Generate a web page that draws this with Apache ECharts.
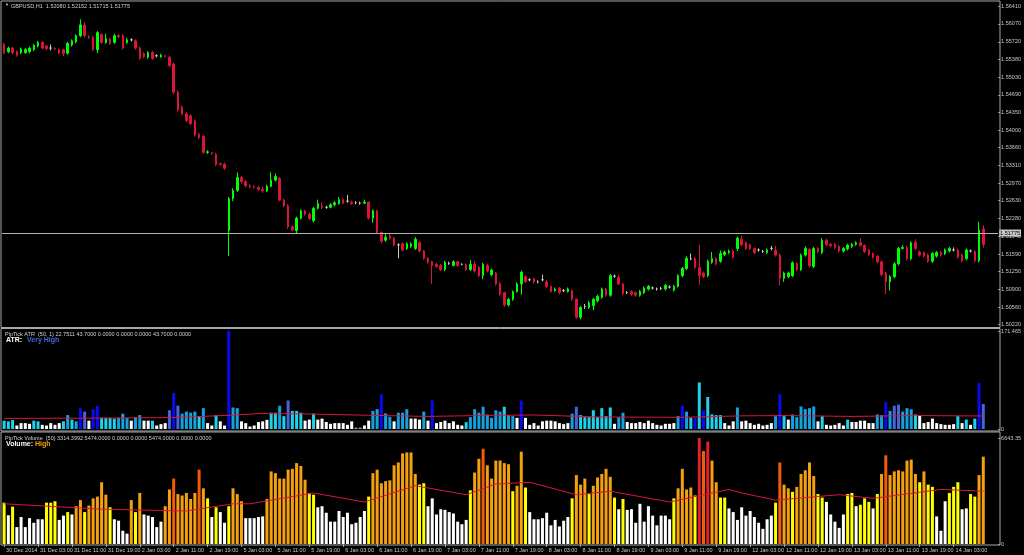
<!DOCTYPE html>
<html><head><meta charset="utf-8">
<script src="https://cdn.jsdelivr.net/npm/echarts@6/dist/echarts.min.js"></script>
<style>html,body{margin:0;padding:0;background:#000;}#c{width:1024px;height:555px;}</style>
</head><body><div id="c"></div><script>
// ---- categories (hourly bars, one session per trading day) ----
const sessions = [['30 Dec',19,23],['31 Dec',0,23],['2 Jan',0,23],['5 Jan',0,23],['6 Jan',0,23],['7 Jan',0,23],['8 Jan',0,23],['9 Jan',0,23],['12 Jan',0,23],['13 Jan',0,23],['14 Jan',0,10]];
const firstLabel = '30 Dec 2014';
const emptySlots = 3;
const symbolName = 'GBPUSD,H1';

// ---- price data ----
const openP = [
1.5567,1.5553,1.5560,1.5553,1.5551,1.5551,1.5553,1.5557,1.5564,1.5571,
1.5564,1.5560,1.5559,1.5557,1.5557,1.5550,1.5566,1.5572,1.5584,1.5605,
1.5582,1.5581,1.5557,1.5586,1.5571,1.5577,1.5571,1.5584,1.5584,1.5571,
1.5576,1.5574,1.5560,1.5549,1.5542,1.5551,1.5545,1.5543,1.5545,1.5542,
1.5529,1.5474,1.5445,1.5432,1.5428,1.5418,1.5392,1.5388,1.5357,1.5356,
1.5353,1.5335,1.5334,1.5205,1.5267,1.5283,1.5308,1.5300,1.5292,1.5290,
1.5289,1.5285,1.5282,1.5291,1.5303,1.5306,1.5264,1.5253,1.5212,1.5205,
1.5229,1.5243,1.5237,1.5224,1.5248,1.5253,1.5250,1.5250,1.5255,1.5257,
1.5265,1.5262,1.5260,1.5259,1.5258,1.5258,1.5260,1.5229,1.5243,1.5201,
1.5186,1.5195,1.5190,1.5177,1.5179,1.5170,1.5174,1.5170,1.5181,1.5165,
1.5151,1.5144,1.5139,1.5137,1.5129,1.5141,1.5137,1.5144,1.5139,1.5139,
1.5129,1.5139,1.5133,1.5117,1.5137,1.5119,1.5122,1.5101,1.5084,1.5060,
1.5071,1.5086,1.5101,1.5115,1.5109,1.5111,1.5105,1.5109,1.5105,1.5096,
1.5088,1.5093,1.5088,1.5086,1.5088,1.5071,1.5036,1.5057,1.5055,1.5059,
1.5068,1.5075,1.5091,1.5079,1.5116,1.5114,1.5101,1.5084,1.5086,1.5084,
1.5079,1.5084,1.5091,1.5093,1.5091,1.5092,1.5091,1.5095,1.5089,1.5096,
1.5117,1.5131,1.5150,1.5150,1.5133,1.5122,1.5117,1.5143,1.5150,1.5145,
1.5158,1.5162,1.5165,1.5170,1.5188,1.5181,1.5177,1.5170,1.5167,1.5164,
1.5162,1.5170,1.5167,1.5157,1.5112,1.5115,1.5117,1.5140,1.5129,1.5157,
1.5168,1.5135,1.5170,1.5162,1.5186,1.5178,1.5178,1.5174,1.5165,1.5169,
1.5174,1.5178,1.5181,1.5176,1.5167,1.5160,1.5155,1.5144,1.5122,1.5105,
1.5115,1.5140,1.5170,1.5172,1.5150,1.5182,1.5163,1.5162,1.5157,1.5145,
1.5155,1.5162,1.5160,1.5165,1.5167,1.5167,1.5157,1.5150,1.5165,1.5164,1.5146,1.52080];
const highP = [
1.5570,1.5563,1.5562,1.5555,1.5561,1.5560,1.5563,1.5568,1.5574,1.5573,
1.5566,1.5567,1.5561,1.5559,1.5559,1.5572,1.5577,1.5587,1.5616,1.5610,
1.5585,1.5584,1.5593,1.5589,1.5588,1.5580,1.5588,1.5587,1.5587,1.5580,
1.5579,1.5577,1.5563,1.5552,1.5554,1.5554,1.5548,1.5549,1.5547,1.5545,
1.5532,1.5478,1.5448,1.5435,1.5431,1.5421,1.5395,1.5391,1.5361,1.5358,
1.5356,1.5337,1.5337,1.5270,1.5287,1.5318,1.5311,1.5303,1.5295,1.5293,
1.5291,1.5290,1.5294,1.5318,1.5316,1.5309,1.5267,1.5256,1.5215,1.5232,
1.5246,1.5245,1.5240,1.5251,1.5265,1.5260,1.5253,1.5258,1.5262,1.5270,
1.5268,1.5274,1.5263,1.5262,1.5261,1.5265,1.5262,1.5246,1.5245,1.5203,
1.5198,1.5199,1.5192,1.5180,1.5182,1.5182,1.5182,1.5192,1.5185,1.5167,
1.5153,1.5146,1.5142,1.5140,1.5146,1.5144,1.5147,1.5146,1.5141,1.5141,
1.5148,1.5145,1.5136,1.5142,1.5140,1.5131,1.5124,1.5105,1.5086,1.5074,
1.5088,1.5104,1.5127,1.5118,1.5112,1.5113,1.5108,1.5119,1.5108,1.5098,
1.5094,1.5095,1.5091,1.5094,1.5090,1.5073,1.5058,1.5062,1.5068,1.5074,
1.5080,1.5094,1.5093,1.5120,1.5119,1.5119,1.5103,1.5087,1.5088,1.5086,
1.5089,1.5096,1.5099,1.5096,1.5094,1.5095,1.5101,1.5098,1.5099,1.5120,
1.5134,1.5155,1.5160,1.5153,1.5177,1.5125,1.5148,1.5163,1.5153,1.5166,
1.5166,1.5168,1.5168,1.5193,1.5195,1.5184,1.5179,1.5172,1.5170,1.5167,
1.5170,1.5175,1.5175,1.5160,1.5125,1.5125,1.5145,1.5143,1.5160,1.5174,
1.5171,1.5173,1.5173,1.5190,1.5189,1.5181,1.5181,1.5177,1.5173,1.5179,
1.5181,1.5184,1.5190,1.5178,1.5169,1.5162,1.5157,1.5146,1.5125,1.5118,
1.5143,1.5173,1.5176,1.5175,1.5184,1.5188,1.5166,1.5164,1.5160,1.5163,
1.5165,1.5165,1.5170,1.5173,1.5172,1.5170,1.5160,1.5170,1.5168,1.5167,1.5222,1.52152];
const lowP = [
1.5548,1.5550,1.5548,1.5543,1.5548,1.5549,1.5550,1.5554,1.5561,1.5557,
1.5556,1.5555,1.5556,1.5548,1.5544,1.5547,1.5563,1.5569,1.5581,1.5581,
1.5578,1.5554,1.5550,1.5568,1.5568,1.5566,1.5568,1.5579,1.5557,1.5568,
1.5573,1.5557,1.5537,1.5540,1.5539,1.5537,1.5542,1.5541,1.5542,1.5523,
1.5470,1.5436,1.5429,1.5416,1.5410,1.5388,1.5383,1.5354,1.5354,1.5352,
1.5330,1.5331,1.5323,1.5155,1.5262,1.5280,1.5296,1.5289,1.5287,1.5286,
1.5282,1.5278,1.5280,1.5289,1.5300,1.5262,1.5250,1.5208,1.5203,1.5200,
1.5226,1.5234,1.5225,1.5220,1.5246,1.5247,1.5247,1.5248,1.5252,1.5255,
1.5256,1.5259,1.5255,1.5256,1.5255,1.5256,1.5226,1.5220,1.5198,1.5180,
1.5183,1.5187,1.5174,1.5151,1.5164,1.5167,1.5171,1.5167,1.5162,1.5148,
1.5140,1.5101,1.5132,1.5126,1.5126,1.5138,1.5135,1.5134,1.5137,1.5126,
1.5126,1.5123,1.5114,1.5110,1.5123,1.5116,1.5098,1.5078,1.5056,1.5057,
1.5068,1.5084,1.5080,1.5103,1.5106,1.5102,1.5102,1.5106,1.5093,1.5084,
1.5086,1.5081,1.5085,1.5084,1.5068,1.5033,1.5032,1.5052,1.5052,1.5050,
1.5065,1.5072,1.5076,1.5076,1.5113,1.5099,1.5079,1.5081,1.5078,1.5076,
1.5076,1.5081,1.5088,1.5090,1.5088,1.5089,1.5088,1.5092,1.5086,1.5094,
1.5114,1.5128,1.5147,1.5130,1.5099,1.5112,1.5114,1.5140,1.5137,1.5142,
1.5155,1.5159,1.5150,1.5165,1.5174,1.5167,1.5167,1.5159,1.5164,1.5161,
1.5159,1.5166,1.5154,1.5098,1.5105,1.5112,1.5114,1.5126,1.5126,1.5154,
1.5133,1.5132,1.5161,1.5159,1.5174,1.5172,1.5169,1.5162,1.5162,1.5166,
1.5171,1.5175,1.5173,1.5161,1.5155,1.5150,1.5141,1.5116,1.5081,1.5088,
1.5112,1.5137,1.5168,1.5147,1.5147,1.5167,1.5154,1.5152,1.5142,1.5142,
1.5152,1.5154,1.5157,1.5162,1.5164,1.5150,1.5143,1.5147,1.5162,1.5143,1.5143,1.51715];
const closeP = [
1.5551,1.5560,1.5551,1.5546,1.5558,1.5557,1.5560,1.5565,1.5571,1.5560,
1.5559,1.5560,1.5558,1.5551,1.5549,1.5569,1.5574,1.5584,1.5605,1.5584,
1.5581,1.5557,1.5590,1.5571,1.5578,1.5569,1.5584,1.5582,1.5560,1.5576,
1.5576,1.5560,1.5540,1.5543,1.5551,1.5540,1.5545,1.5546,1.5544,1.5526,
1.5474,1.5440,1.5432,1.5419,1.5413,1.5391,1.5386,1.5357,1.5358,1.5355,
1.5333,1.5334,1.5326,1.5267,1.5283,1.5308,1.5300,1.5292,1.5290,1.5289,
1.5285,1.5282,1.5291,1.5303,1.5310,1.5264,1.5253,1.5212,1.5206,1.5229,
1.5243,1.5237,1.5228,1.5248,1.5257,1.5250,1.5250,1.5255,1.5259,1.5265,
1.5258,1.5262,1.5257,1.5259,1.5258,1.5260,1.5229,1.5243,1.5201,1.5184,
1.5192,1.5190,1.5177,1.5177,1.5167,1.5179,1.5179,1.5188,1.5165,1.5151,
1.5143,1.5137,1.5135,1.5129,1.5143,1.5141,1.5144,1.5137,1.5139,1.5129,
1.5139,1.5126,1.5117,1.5139,1.5126,1.5128,1.5101,1.5081,1.5060,1.5071,
1.5086,1.5101,1.5124,1.5105,1.5109,1.5105,1.5105,1.5109,1.5096,1.5086,
1.5091,1.5084,1.5088,1.5091,1.5071,1.5036,1.5055,1.5057,1.5064,1.5071,
1.5077,1.5091,1.5079,1.5117,1.5116,1.5101,1.5082,1.5084,1.5081,1.5079,
1.5086,1.5093,1.5096,1.5093,1.5091,1.5092,1.5098,1.5095,1.5096,1.5117,
1.5131,1.5151,1.5150,1.5133,1.5117,1.5115,1.5145,1.5150,1.5140,1.5160,
1.5163,1.5165,1.5153,1.5190,1.5177,1.5170,1.5170,1.5162,1.5167,1.5164,
1.5167,1.5170,1.5157,1.5112,1.5122,1.5122,1.5142,1.5129,1.5157,1.5170,
1.5136,1.5170,1.5164,1.5186,1.5177,1.5175,1.5172,1.5165,1.5170,1.5176,
1.5178,1.5181,1.5176,1.5164,1.5158,1.5153,1.5144,1.5119,1.5105,1.5115,
1.5140,1.5170,1.5172,1.5150,1.5181,1.5170,1.5157,1.5155,1.5145,1.5160,
1.5162,1.5157,1.5167,1.5170,1.5167,1.5153,1.5146,1.5167,1.5165,1.5146,1.5206,1.51775];

// ---- ATR (pips) and level class per bar ----
const atrVal = [
14.6,13.4,15.8,6.1,10.3,10.3,9.1,14.6,13.4,7.3,
6.1,10.3,7.3,10.3,13.4,24.3,16.4,13.4,36.5,30.4,
14.6,34.7,40.7,19.5,19.5,19.5,18.2,19.5,26.8,19.5,
14.6,20.7,24.3,14.6,14.6,14.6,6.1,8.5,10.3,32.8,
63.2,40.7,26.8,30.4,28.6,30.4,22.5,36.5,10.3,6.1,
24.3,13.4,6.1,171.465,37.7,36.5,13.4,10.3,4.3,6.1,
12.2,13.4,16,28.6,28.6,40.7,22.5,49.9,31.6,31.6,
28.6,14.6,16.4,26.8,16.4,18.2,12.2,9.1,10.3,10.3,
10.3,7.3,13.4,2.4,2.4,6.1,14.6,31.6,34.7,60.8,
27.4,21.3,13.4,28.6,28.6,34.7,18.2,18.2,16.4,30.4,
14.6,49.9,10.3,12.2,14.6,10.3,13.4,7.3,6.1,12,
20.7,34.7,28.6,38.9,25.5,19.5,32.8,30.4,38.9,24.3,
22.5,19.5,49.9,19.5,7.3,10.3,6.1,13.4,14.6,14.6,
13.4,10.3,8.5,10.3,26.8,38.9,24.3,20.7,20.7,32.8,
20.7,36.5,22.5,37.7,9.1,20.7,28.6,12.2,10.3,10.3,
12.2,10.3,14.6,10.3,7.3,6.1,9.1,9.1,10.3,22.5,
40.7,30.4,19.5,19.5,81.5,32.8,56,25.5,24.3,24.3,
10.3,6.1,13.4,37.7,13.4,14.6,10.3,7.3,9.1,6.1,
7.3,10.3,22.5,60.8,22.5,16.4,25.5,20.7,39.5,34.7,
36.5,39.5,13.4,22.5,7.3,6.1,7.3,10.3,6.1,16.4,
12.2,12.2,14.6,14.6,10.3,10.3,25.5,24.3,47.1,31.6,
40.7,42.6,30.4,36.5,34.7,25.5,23.7,10.3,12.2,18.2,
10.3,8.5,7.3,7.3,8.5,22.5,10.3,16.4,7.3,18.2,80.3,43.7];
const atrLevel = (
'cccwwwwccw'+'wwwwcscsbr'+'wbbccccsss'+'wsswwcwwwr'+'brsssscsww'+
'cwwbsswwww'+'wwwccscrcc'+'cwwcwwwwww'+'wwwggwwssb'+'sswssswwws'+
'wbwwwwwwwc'+'sssssssscs'+'swbwwwwwww'+'wwwwsrcccc'+'ccccwsswww'+
'wwwwwwwwws'+'bscbcbcccc'+'wwwswwwwww'+'wwsbcwssss'+'sswcwwwwwc'+
'wwwwwwssbs'+'rrssscwwww'+'wwwwwcwcwcbr').split('');
const atrMA = [[0,18.5],[20,19],[40,20],[53,24],[60,27],[70,26.5],[86,24],[100,22],[116,24],[125,24.5],[140,21],[160,20.5],[174,23],[185,23.5],[200,22],[215,23.5],[231,22.75]];
const atrMax = 171.465;
const atrHeader = 'PipTick ATR  (50, 1) 22.7511 43.7000 0.0000 0.0000 0.0000 43.7000 0.0000';
const atrState = 'Very High';

// ---- Volume and level class per bar ----
const volVal = [
2590,1800,2340,1060,1690,1060,1620,1330,1550,1550,
2590,2590,2680,1510,1780,2000,1850,2370,2750,2000,
2410,2860,2970,3870,3090,2300,1550,1460,830,650,
2750,2000,3200,1850,1780,1690,1060,1400,2370,3420,
4100,3130,3040,3200,2820,3200,4660,3490,2860,1690,
2300,2000,1330,2370,3490,3130,2680,1620,1620,1620,
1690,1730,2820,4550,4440,4100,4100,4660,4710,5070,
4890,4030,3200,3090,2300,2370,1960,1400,1400,2070,
1690,1960,1240,1330,1690,2070,2970,4440,4660,3810,
3940,3990,4930,5110,5680,5740,5740,4390,3720,3810,
2370,2860,1850,2180,2140,2000,1910,1400,1240,1510,
3360,4480,5340,5970,4930,4100,5230,5230,5070,5000,
3310,3650,5790,3540,2000,1550,1550,1620,1960,1170,
1510,1100,1460,1690,2860,4320,3720,4100,3130,3650,
4170,4390,4710,4210,2910,2180,2820,2140,2180,1330,
2520,1400,2370,1780,1170,1780,1780,1550,2860,3490,
4710,3420,3540,3040,6643,5830,6420,5230,3870,2910,
2910,2230,2000,1510,2300,1780,2070,1690,1330,950,
1550,1780,2590,5110,3720,3490,3270,3580,4390,4620,
5110,4260,3130,2910,2640,1850,1400,1010,1850,3130,
3200,2370,2460,2860,2640,2230,3130,4390,5560,4320,
4550,4620,4550,5230,5290,4390,3870,4550,3720,3580,
1730,830,2680,3200,3580,3870,2180,2230,3130,2970,4320,5474];
const volLevel = (
'ywywwwwwww'+'yyywwywooy'+'oooooywwww'+'oyowwwwwoo'+'dooooodoyw'+
'ywwyooowww'+'wwoooooooo'+'ooyywwwwww'+'wwwwwwyooo'+'ooooooooyy'+
'wwwwwwwwww'+'yoodoooooo'+'yooywwwwww'+'wwwwyoooyo'+'ooooywywww'+
'wwwwwwwwyo'+'oooyrdrooy'+'ywwwwwwwww'+'wwydooyooo'+'ooyywwwwwy'+
'ywyyywyodo'+'ooooooyoyy'+'wwwyyywwyyoo').split('');
const volMA = [[0,2520],[23,2180],[43,2070],[54,2520],[58,2520],[73,3200],[85,2630],[97,3650],[109,3090],[116,3760],[124,3870],[135,3090],[143,3310],[157,2630],[171,3420],[174,3200],[182,2750],[197,3090],[205,2860],[221,3420],[231,3314]];
const volMax = 6643.35;
const volHeader = 'PipTick Volume  (50) 3314.3992 5474.0000 0.0000 0.0000 5474.0000 0.0000 0.0000';
const volState = 'High';

// ---- price scale tick labels ----
const priceTicks = ['1.56410','1.56070','1.55720','1.55380','1.55030','1.54690','1.54350','1.54000','1.53660','1.53310','1.52970','1.52630','1.52280','1.51940','1.51590','1.51250','1.50900','1.50560','1.50220'];

// ---- build ----
const cats = [];
sessions.forEach(([d,a,b]) => { for (let h=a; h<=b; h++) cats.push(d+' '+(h<10?'0':'')+h+':00'); });
for (let k=0;k<emptySlots;k++) cats.push('');
const N = openP.length;
const candles = openP.map((o,i)=>[o, closeP[i], lowP[i], highP[i]]);
const atrColors = {w:'#FFFFFF', c:'#1ED2EA', s:'#12A2DE', r:'#4466DD', b:'#0A0AEE', g:'#A0A0A0'};
const volColors = {w:'#FFFFFF', y:'#FFFF00', o:'#F5A00E', d:'#F25A0C', r:'#E0202A'};
const atrData = atrVal.map((v,i)=>({value:v, itemStyle:{color:atrColors[atrLevel[i]]}}));
const volData = volVal.map((v,i)=>({value:v, itemStyle:{color:volColors[volLevel[i]]}}));
const last = N-1;
const titleText = symbolName+'  '+openP[last].toFixed(5)+' '+highP[last].toFixed(5)+' '+lowP[last].toFixed(5)+' '+closeP[last].toFixed(5);

const FONT = 'Liberation Sans';
const labelInterval = (idx) => idx % 8 === 0 && idx < N;
const hiddenX = (g) => ({type:'category', gridIndex:g, data:cats, boundaryGap:true,
  axisLine:{show:false}, axisTick:{show:false}, axisLabel:{show:false}, splitLine:{show:false}});
const tickColor = '#9a9a9a';
const frameColor = '#a8a8a8';

const chart = echarts.init(document.getElementById('c'), null, {renderer:'canvas'});
chart.setOption({
  animation:false,
  backgroundColor:'#000000',
  grid:[
    {left:2, right:24, top:2, height:325},
    {left:2, right:24, top:331, height:98},
    {left:2, right:24, top:438, height:106}
  ],
  xAxis:[hiddenX(0), hiddenX(1), {
    type:'category', gridIndex:2, data:cats, boundaryGap:true,
    axisLine:{show:false},
    axisTick:{show:true, interval:labelInterval, alignWithLabel:true, length:3, lineStyle:{color:tickColor}},
    axisLabel:{interval:labelInterval, align:'left', color:'#c8c8c8', fontSize:5.5, fontFamily:FONT, margin:3, padding:[0,0,0,2],
      formatter:(v,i)=> i===0 ? firstLabel : v},
    splitLine:{show:false}
  }],
  yAxis:[
    {type:'value', gridIndex:0, position:'right', min:1.50171, max:1.56496, splitLine:{show:false},
      axisLine:{show:false},
      axisTick:{show:true, customValues:priceTicks.map(Number), length:2, lineStyle:{color:tickColor}},
      axisLabel:{customValues:priceTicks.map(Number), formatter:v=>v.toFixed(5), color:'#c8c8c8', fontSize:5.5, fontFamily:FONT, margin:3}},
    {type:'value', gridIndex:1, position:'right', min:0, max:atrMax, splitLine:{show:false}, axisLine:{show:false},
      axisTick:{show:true, customValues:[0, atrMax], length:2, lineStyle:{color:tickColor}},
      axisLabel:{customValues:[0, atrMax], formatter:v=> v===0 ? '0' : String(atrMax), color:'#c8c8c8', fontSize:5.5, fontFamily:FONT, margin:3}},
    {type:'value', gridIndex:2, position:'right', min:0, max:volMax, splitLine:{show:false}, axisLine:{show:false},
      axisTick:{show:true, customValues:[0, volMax], length:2, lineStyle:{color:tickColor}},
      axisLabel:{customValues:[0, volMax], formatter:v=> v===0 ? '0' : String(volMax), color:'#c8c8c8', fontSize:5.5, fontFamily:FONT, margin:3}}
  ],
  series:[
    {type:'candlestick', xAxisIndex:0, yAxisIndex:0, data:candles, barWidth:2,
      itemStyle:{color:'#00FF00', color0:'#DC143C', borderColor:'#00FF00', borderColor0:'#DC143C', borderColorDoji:'#C8C8C8', borderWidth:1},
      markLine:{silent:true, symbol:'none', data:[{yAxis:closeP[last]}],
        lineStyle:{color:'#B4B4B4', width:1, type:'solid'},
        label:{show:true, position:'end', distance:1, formatter:closeP[last].toFixed(5), color:'#000', backgroundColor:'#C8C8C8',
          fontSize:5.5, fontFamily:FONT, padding:[1,1,0,1]}}},
    {type:'bar', xAxisIndex:1, yAxisIndex:1, data:atrData, barWidth:3, barGap:'0%'},
    {type:'line', xAxisIndex:1, yAxisIndex:1, data:atrMA, showSymbol:false, symbol:'none', lineStyle:{color:'#DC143C', width:1}, z:5},
    {type:'bar', xAxisIndex:2, yAxisIndex:2, data:volData, barWidth:3, barGap:'0%'},
    {type:'line', xAxisIndex:2, yAxisIndex:2, data:volMA, showSymbol:false, symbol:'none', lineStyle:{color:'#DC143C', width:1}, z:5}
  ],
  graphic:[
    {type:'rect', shape:{x:1, y:1, width:999, height:326.5}, style:{fill:'none', stroke:frameColor, lineWidth:1}, silent:true, z:10},
    {type:'rect', shape:{x:1, y:328.5, width:999, height:102.5}, style:{fill:'none', stroke:frameColor, lineWidth:1}, silent:true, z:10},
    {type:'rect', shape:{x:1, y:432, width:999, height:113}, style:{fill:'none', stroke:frameColor, lineWidth:1}, silent:true, z:10},
    {type:'text', left:5, top:3, style:{text:'▼', fill:'#d0d0d0', font:'4px '+FONT}, z:11},
    {type:'text', left:11, top:3, style:{text:titleText, fill:'#d0d0d0', font:'5.5px '+FONT}, z:11},
    {type:'text', left:5, top:331, style:{text:atrHeader, fill:'#d0d0d0', font:'5.5px '+FONT}, z:11},
    {type:'text', left:6, top:337, style:{text:'ATR:', fill:'#ffffff', font:'bold 7px '+FONT}, z:11},
    {type:'text', left:27, top:337, style:{text:atrState, fill:'#4466DD', font:'bold 7px '+FONT}, z:11},
    {type:'text', left:5, top:435, style:{text:volHeader, fill:'#d0d0d0', font:'5.5px '+FONT}, z:11},
    {type:'text', left:6, top:441, style:{text:'Volume:', fill:'#ffffff', font:'bold 7px '+FONT}, z:11},
    {type:'text', left:35, top:441, style:{text:volState, fill:'#F5A00E', font:'bold 7px '+FONT}, z:11}
  ]
});
</script></body></html>
